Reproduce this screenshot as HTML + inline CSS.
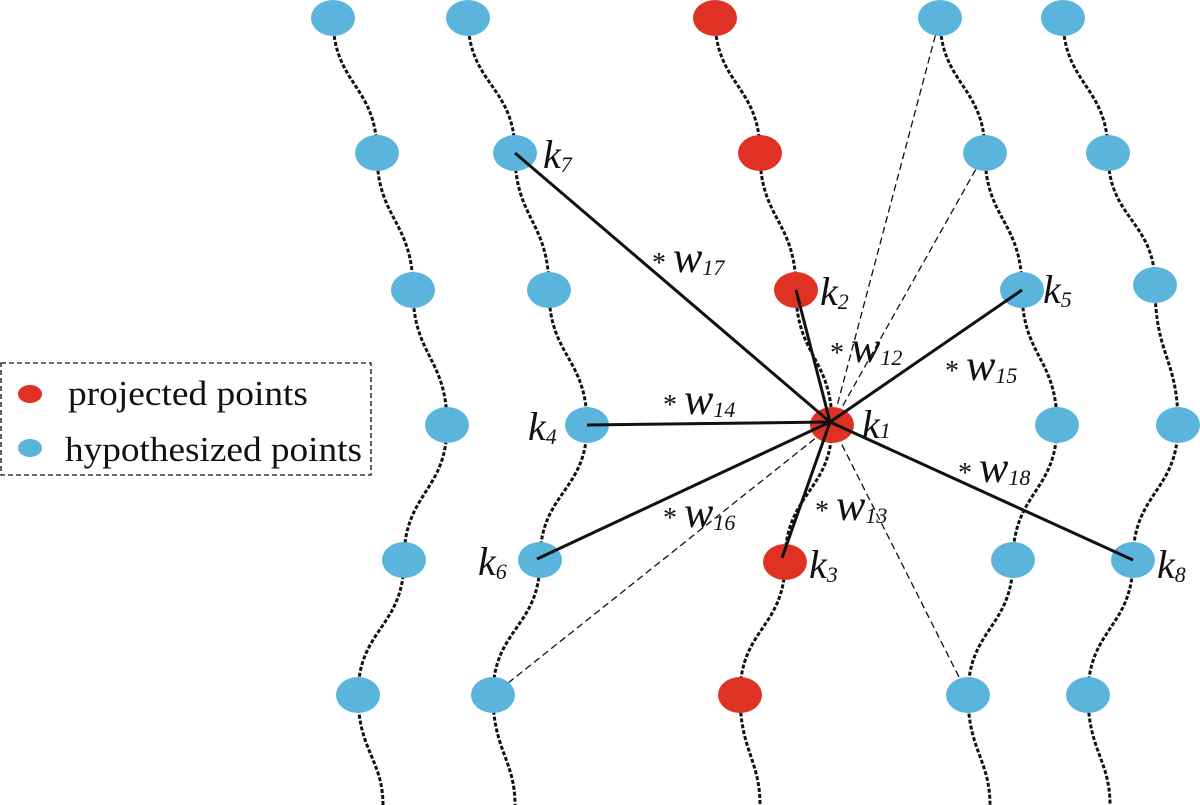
<!DOCTYPE html>
<html><head><meta charset="utf-8"><style>
html,body{margin:0;padding:0;background:#fff;}
svg{display:block;}
text{font-family:"Liberation Serif",serif;}
.k{font-style:italic;font-size:40px;}
.s{font-size:22px;font-style:italic;}
.w{font-style:italic;font-size:44px;}
.st{font-size:28px;font-style:normal;}
</style></head><body>
<svg width="1200" height="805" viewBox="0 0 1200 805" xmlns="http://www.w3.org/2000/svg">
<g fill="none" stroke="#111" stroke-width="3" stroke-dasharray="4,2">
<path d="M333,18 C333,85 377,85 377,153 C377,220 413,220 413,290 C413,357 447,357 447,425 C447,492 404,492 404,560 C404,628 358,628 358,695 C358,750 383,760 383,805"/>
<path d="M468,18 C468,85 515,85 515,153 C515,220 549,220 549,290 C549,357 587,357 587,425 C587,492 540,492 540,560 C540,628 493,628 493,695 C493,750 515,760 515,805"/>
<path d="M715,18 C715,85 760,85 760,153 C760,220 796,220 796,290 C796,357 832,357 832,425 C832,492 785,492 785,562 C785,628 740,628 740,695 C740,750 760,760 760,805"/>
<path d="M940,18 C940,85 985,85 985,153 C985,220 1022,220 1022,290 C1022,357 1057,357 1057,425 C1057,492 1013,492 1013,560 C1013,628 968,628 968,695 C968,750 990,760 990,805"/>
<path d="M1063,18 C1063,85 1108,85 1108,153 C1108,220 1155,220 1155,285 C1155,357 1178,357 1178,425 C1178,492 1133,492 1133,560 C1133,628 1088,628 1088,695 C1088,750 1110,760 1110,805"/>
</g>
<g stroke="#111" stroke-width="1.3" stroke-dasharray="7,4" fill="none">
<line x1="832" y1="425" x2="940" y2="18"/>
<line x1="832" y1="425" x2="985" y2="153"/>
<line x1="832" y1="425" x2="493" y2="695"/>
<line x1="832" y1="425" x2="968" y2="695"/>
</g>
<g fill="#5ab4dc">
<ellipse cx="333" cy="18" rx="22" ry="18"/><ellipse cx="377" cy="153" rx="22" ry="18"/><ellipse cx="413" cy="290" rx="22" ry="18"/><ellipse cx="447" cy="425" rx="22" ry="18"/><ellipse cx="404" cy="560" rx="22" ry="18"/><ellipse cx="358" cy="695" rx="22" ry="18"/>
<ellipse cx="468" cy="18" rx="22" ry="18"/><ellipse cx="515" cy="153" rx="22" ry="18"/><ellipse cx="549" cy="290" rx="22" ry="18"/><ellipse cx="587" cy="425" rx="22" ry="18"/><ellipse cx="540" cy="560" rx="22" ry="18"/><ellipse cx="493" cy="695" rx="22" ry="18"/>
<ellipse cx="940" cy="18" rx="22" ry="18"/><ellipse cx="985" cy="153" rx="22" ry="18"/><ellipse cx="1022" cy="290" rx="22" ry="18"/><ellipse cx="1057" cy="425" rx="22" ry="18"/><ellipse cx="1013" cy="560" rx="22" ry="18"/><ellipse cx="968" cy="695" rx="22" ry="18"/>
<ellipse cx="1063" cy="18" rx="22" ry="18"/><ellipse cx="1108" cy="153" rx="22" ry="18"/><ellipse cx="1155" cy="285" rx="22" ry="18"/><ellipse cx="1178" cy="425" rx="22" ry="18"/><ellipse cx="1133" cy="560" rx="22" ry="18"/><ellipse cx="1088" cy="695" rx="22" ry="18"/>
<ellipse cx="30" cy="448" rx="12" ry="9"/>
</g>
<g fill="#e03224">
<ellipse cx="715" cy="18" rx="22" ry="18"/><ellipse cx="760" cy="153" rx="22" ry="18"/><ellipse cx="796" cy="290" rx="22" ry="18"/><ellipse cx="832" cy="425" rx="22" ry="18"/><ellipse cx="785" cy="562" rx="22" ry="18"/><ellipse cx="740" cy="695" rx="22" ry="18"/>
<ellipse cx="30" cy="394" rx="12" ry="9"/>
</g>
<g stroke="#111" stroke-width="3">
<line x1="830" y1="422" x2="515" y2="153"/>
<line x1="830" y1="422" x2="796" y2="290"/>
<line x1="830" y1="422" x2="1022" y2="290"/>
<line x1="830" y1="422" x2="587" y2="425"/>
<line x1="830" y1="422" x2="537" y2="559"/>
<line x1="830" y1="422" x2="782" y2="558"/>
<line x1="830" y1="422" x2="1133" y2="560"/>
</g>
<g fill="#111">
<text class="k" x="543" y="168">k<tspan class="s" dy="4">7</tspan></text>
<text class="k" x="820" y="305">k<tspan class="s" dy="4">2</tspan></text>
<text class="k" x="1043" y="303">k<tspan class="s" dy="4">5</tspan></text>
<text class="k" x="862" y="438">k<tspan class="s" dy="0">1</tspan></text>
<text class="k" x="528" y="440">k<tspan class="s" dy="4">4</tspan></text>
<text class="k" x="478" y="575">k<tspan class="s" dy="4">6</tspan></text>
<text class="k" x="809" y="578">k<tspan class="s" dy="4">3</tspan></text>
<text class="k" x="1157" y="578">k<tspan class="s" dy="4">8</tspan></text>
<text class="w" x="652" y="272"><tspan class="st">* </tspan>w<tspan class="s" dy="3">17</tspan></text>
<text class="w" x="830" y="362"><tspan class="st">* </tspan>w<tspan class="s" dy="3">12</tspan></text>
<text class="w" x="945" y="380"><tspan class="st">* </tspan>w<tspan class="s" dy="3">15</tspan></text>
<text class="w" x="663" y="414"><tspan class="st">* </tspan>w<tspan class="s" dy="3">14</tspan></text>
<text class="w" x="958" y="482"><tspan class="st">* </tspan>w<tspan class="s" dy="3">18</tspan></text>
<text class="w" x="663" y="527"><tspan class="st">* </tspan>w<tspan class="s" dy="3">16</tspan></text>
<text class="w" x="815" y="520"><tspan class="st">* </tspan>w<tspan class="s" dy="3">13</tspan></text>
</g>
<rect x="1" y="363" width="370" height="112" fill="none" stroke="#111" stroke-width="1.3" stroke-dasharray="5,3"/>
<text x="68" y="405" font-size="35" textLength="240" lengthAdjust="spacingAndGlyphs" fill="#111">projected points</text>
<text x="65" y="461" font-size="35" textLength="297" lengthAdjust="spacingAndGlyphs" fill="#111">hypothesized points</text>
</svg>
</body></html>
